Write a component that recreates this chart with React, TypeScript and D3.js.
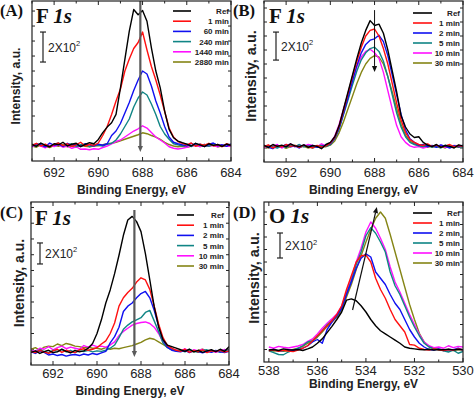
import * as d3 from 'd3';

// ---------- data ----------
const energyF = d3.range(46).map((i) => +(693 - 0.2 * i).toFixed(1));
const energyO = d3.range(41).map((i) => +(538 - 0.2 * i).toFixed(1));

const legendA = ['Ref', '1 min', '60 min', '240 min', '1440 min', '2880 min'];
const legendShort = ['Ref', '1 min', '2 min', '5 min', '10 min', '30 min'];
const ticksF = [692, 690, 688, 686, 684];
const ticksO = [538, 536, 534, 532, 530];
const colors = ['#000000', '#ff1010', '#1010f0', '#108585', '#ff10ff', '#858515'];

// (A) F 1s, long exposure
const aRef = [110, 98, 120, 104, 95, 115, 108, 125, 100, 112, 118, 96, 110, 122, 115,
  144, 189, 226, 255, 311, 488, 677, 866, 1010, 975, 1003, 932, 755, 600, 488, 333, 211, 155, 133, 122,
  112, 100, 118, 108, 96, 115, 104, 110, 98, 112, 105];
const a1 = [105, 118, 100, 112, 95, 110, 120, 102, 115, 98, 108, 125, 100, 110, 104,
  120, 170, 230, 310, 400, 480, 600, 680, 750, 790, 860, 740, 630, 540, 440, 330, 220, 160, 130, 118,
  108, 120, 98, 112, 105, 118, 100, 110, 95, 115, 104];
const a60 = [100, 115, 108, 95, 120, 104, 112, 98, 118, 106, 110, 96, 115, 108, 100, 112, 105,
  115, 170, 200, 250, 320, 390, 470, 540, 600, 580, 500, 400, 320, 230, 160, 125, 115,
  108, 100, 118, 104, 112, 96, 110, 120, 102, 108, 98, 114];
const a240 = [112, 100, 118, 104, 96, 110, 120, 100, 106, 115, 98, 108, 112, 95, 110, 104, 100, 112,
  118, 140, 180, 230, 280, 360, 420, 460, 440, 380, 310, 230, 180, 145, 115,
  108, 100, 112, 96, 118, 104, 110, 98, 115, 106, 100, 112, 108];
const a1440 = [95, 110, 100, 88, 105, 96, 108, 92, 100, 85, 95, 78, 80, 75, 82,
  78, 90, 100, 115, 130, 140, 160, 180, 200, 215, 235, 220, 190, 160, 140, 120, 95, 85, 80,
  84, 92, 100, 105, 96, 110, 100, 104, 95, 108, 100, 98];
const a2880 = [100, 92, 108, 96, 90, 104, 98, 110, 95, 100, 92, 105, 98, 95, 100,
  102, 108, 115, 118, 125, 135, 145, 155, 165, 175, 188, 182, 170, 160, 145, 125, 110, 100, 95,
  98, 92, 100, 105, 96, 102, 98, 106, 94, 100, 98, 102];

// (B) F 1s
const bRef = [118, 105, 125, 112, 120, 108, 130, 115, 110, 122, 105, 118, 112, 95, 125,
  140, 180, 260, 380, 500, 620, 740, 850, 940, 1010, 975, 985, 920, 800, 650, 500, 330, 250, 200, 175, 180, 140,
  120, 110, 125, 105, 118, 112, 100, 122, 115];
const b1 = [110, 122, 100, 115, 108, 125, 112, 118, 105, 120, 110, 100, 118, 108, 115,
  135, 175, 255, 370, 490, 610, 720, 820, 900, 940, 950, 900, 810, 700, 560, 420, 300, 210, 160, 140, 125, 118,
  130, 110, 120, 105, 115, 125, 108, 118, 112];
const b2 = [120, 105, 95, 118, 110, 125, 108, 115, 100, 122, 112, 118, 105, 110, 120,
  130, 170, 245, 350, 460, 580, 690, 780, 840, 870, 880, 905, 860, 760, 620, 480, 340, 230, 165, 140, 120, 125,
  110, 118, 105, 122, 112, 100, 115, 108, 120];
const b5 = [112, 118, 108, 100, 115, 105, 120, 110, 125, 108, 115, 100, 112, 118, 110,
  125, 165, 235, 340, 445, 550, 650, 730, 780, 810, 820, 790, 720, 610, 480, 350, 250, 180, 140, 125, 115, 110,
  118, 105, 112, 100, 120, 108, 115, 110, 105];
const b10 = [105, 118, 112, 125, 100, 115, 130, 108, 120, 112, 125, 118, 108, 130, 115,
  135, 185, 270, 380, 480, 580, 680, 750, 790, 805, 780, 740, 640, 510, 380, 260, 180, 140, 115, 105, 110, 100,
  108, 115, 112, 120, 105, 110, 118, 115, 108];
const b30 = [108, 100, 115, 105, 112, 98, 110, 118, 104, 112, 100, 108, 115, 105, 110,
  120, 150, 210, 290, 380, 470, 560, 640, 700, 740, 760, 750, 700, 610, 500, 380, 270, 190, 150, 130, 118, 110,
  105, 115, 108, 112, 100, 118, 110, 105, 112];

// (C) F 1s
const cRef = [120, 135, 110, 128, 140, 118, 125, 150, 130, 115, 140, 125, 135,
  160, 205, 300, 430, 590, 715, 870, 1045, 1235, 1380, 1415, 1365, 1270, 1060, 810, 555, 365, 240, 190, 175, 160,
  145, 130, 150, 125, 140, 120, 135, 145, 128, 150, 130, 175];
const c1 = [130, 118, 140, 125, 110, 135, 150, 120, 140, 128, 118, 145, 155, 140, 150,
  165, 200, 230, 300, 400, 560, 640, 690, 730, 790, 830, 810, 720, 560, 390, 260, 185, 160, 140,
  130, 150, 120, 138, 125, 145, 118, 135, 128, 140, 122, 132];
const c2 = [125, 110, 135, 120, 95, 105, 90, 100, 85, 95, 100, 90, 105, 95, 110,
  100, 115, 130, 210, 270, 360, 510, 560, 590, 640, 680, 700, 640, 520, 370, 240, 170, 140, 130,
  125, 140, 118, 135, 128, 115, 130, 120, 138, 125, 118, 130];
const c5 = [135, 120, 145, 128, 115, 140, 130, 150, 125, 140, 118, 135, 128, 140, 125,
  135, 130, 140, 160, 190, 260, 340, 380, 410, 430, 450, 500, 520, 420, 320, 210, 165, 145,
  135, 140, 125, 150, 130, 120, 138, 145, 125, 135, 120, 140, 128];
const c10 = [140, 130, 160, 150, 175, 145, 165, 180, 155, 170, 160, 150, 185, 170, 190,
  175, 180, 170, 190, 220, 280, 320, 350, 380, 395, 405, 410, 395, 360, 300, 220, 170, 150,
  140, 130, 155, 125, 145, 135, 150, 128, 140, 120, 135, 148, 130];
const c30 = [150, 165, 140, 170, 180, 175, 200, 185, 205, 195, 180, 175, 165, 170, 160,
  160, 150, 165, 150, 160, 155, 165, 175, 185, 200, 215, 240, 255, 245, 220, 195, 170, 150,
  140, 130, 145, 135, 125, 140, 150, 132, 138, 125, 145, 130, 135];

// (D) O 1s
const dRef = [96, 100, 92, 105, 98, 96, 100, 92, 105,
  120, 150, 185, 235, 285, 340, 400, 495, 505, 490, 450,
  400, 340, 290, 250, 225, 200, 175, 150, 120, 110, 105,
  100, 98, 102, 96, 100, 98, 103, 97, 100, 99];
const d1 = [90, 98, 85, 95, 88, 83, 95, 110, 130,
  170, 210, 250, 290, 330, 380, 450, 580, 690, 800, 850, 855,
  800, 670, 580, 510, 420, 340, 290, 240, 140, 135, 110,
  100, 95, 105, 98, 92, 100, 95, 105, 98];
const d2 = [95, 100, 88, 92, 98, 90, 100, 110, 130, 160, 180, 150, 260, 320, 370, 430, 540, 640, 750, 830, 865,
  840, 720, 670, 620, 540, 470, 420, 340, 260, 200, 150, 120, 100, 95, 105, 92, 100, 98, 110, 95];
const d5 = [90, 75, 60, 58, 80, 95, 110, 130, 160,
  170, 205, 250, 297, 330, 370, 430, 545, 650, 780, 880, 1010, 1075,
  1030, 960, 880, 720, 610, 540, 450, 360, 280, 210, 150, 120,
  105, 100, 90, 80, 95, 70, 85];
const d10 = [120, 110, 125, 118, 112, 120, 128, 140, 165,
  185, 225, 270, 310, 345, 385, 445, 560, 670, 800, 910, 1040, 1120,
  1070, 990, 900, 760, 640, 560, 470, 380, 300, 220, 160, 130,
  115, 120, 110, 130, 115, 125, 120];
const d30 = [95, 88, 92, 85, 90, 100, 110, 125, 150,
  165, 200, 240, 285, 320, 360, 420, 520, 620, 740, 850, 960, 1060, 1150, 1200,
  1150, 1020, 880, 740, 600, 460, 340, 230, 160, 125, 108,
  100, 95, 98, 92, 100, 95];

// ---------- layout ----------
const SANS = 'Liberation Sans, Arial, sans-serif';
const SERIF = 'Liberation Serif, Times New Roman, serif';

type PanelCfg = {
  id: string;
  letter: string;
  element: string;
  frame: { l: number; t: number; r: number; b: number };
  xDomain: [number, number];
  yMax: number;
  energies: number[];
  series: number[][];
  legend: string[];
  xTicks: number[];
  yStep: number;
  leg: { x1: number; x2: number; tx: number; y: number; dy: number };
  letterPos: [number, number];
  titlePos: [number, number];
  bar: { x: number; lo: number };
  yTitle: { x: number; y: number; size: number };
  tickY: number;
  xTitleY: number;
  arrow: { from: [number, number]; to: [number, number]; color: string; width: number };
};

const panels: PanelCfg[] = [
  {
    id: 'a', letter: '(A)', element: 'F',
    frame: { l: 32, t: 1, r: 231, b: 161 }, xDomain: [693, 684], yMax: 1067,
    energies: energyF, series: [aRef, a1, a60, a240, a1440, a2880], legend: legendA,
    xTicks: ticksF, yStep: 100,
    leg: { x1: 173, x2: 191, tx: 229, y: 11, dy: 10.2 },
    letterPos: [0, 16], titlePos: [36, 23], bar: { x: 43, lo: 660 },
    yTitle: { x: 16, y: 86, size: 12.2 }, tickY: 177, xTitleY: 194,
    arrow: { from: [688.1, 1067], to: [688.1, 60], color: '#5a5a5a', width: 2.2 },
  },
  {
    id: 'b', letter: '(B)', element: 'F',
    frame: { l: 264, t: 1, r: 463, b: 162 }, xDomain: [693, 684], yMax: 1150,
    energies: energyF, series: [bRef, b1, b2, b5, b10, b30], legend: legendShort,
    xTicks: ticksF, yStep: 100,
    leg: { x1: 413, x2: 432, tx: 460, y: 13, dy: 10 },
    letterPos: [233, 16], titlePos: [269, 23], bar: { x: 276, lo: 728 },
    yTitle: { x: 251, y: 76, size: 14.5 }, tickY: 177, xTitleY: 194,
    arrow: { from: [688.0, 1085], to: [688.0, 643], color: '#111', width: 1 },
  },
  {
    id: 'c', letter: '(C)', element: 'F',
    frame: { l: 31, t: 202, r: 229, b: 365 }, xDomain: [693, 684], yMax: 1552,
    energies: energyF, series: [cRef, c1, c2, c5, c10, c30], legend: legendShort,
    xTicks: ticksF, yStep: 150,
    leg: { x1: 177, x2: 194, tx: 224, y: 215, dy: 10.2 },
    letterPos: [0, 218], titlePos: [35, 225], bar: { x: 40, lo: 962 },
    yTitle: { x: 19, y: 283, size: 14 }, tickY: 378, xTitleY: 395,
    arrow: { from: [688.3, 1476], to: [688.3, 76], color: '#5a5a5a', width: 2.2 },
  },
  {
    id: 'd', letter: '(D)', element: 'O',
    frame: { l: 264, t: 202, r: 463, b: 362 }, xDomain: [538.2, 530], yMax: 1280,
    energies: energyO, series: [dRef, d1, d2, d5, d10, d30], legend: legendShort,
    xTicks: ticksO, yStep: 100,
    leg: { x1: 413, x2: 432, tx: 460, y: 213, dy: 10 },
    letterPos: [233, 218], titlePos: [269, 223], bar: { x: 280, lo: 832 },
    yTitle: { x: 254, y: 278, size: 14.5 }, tickY: 375, xTitleY: 388,
    arrow: { from: [534.55, 416], to: [533.55, 1240], color: '#111', width: 1.2 },
  },
];

function Panel({ p }: { p: PanelCfg }) {
  const { l, t, r, b } = p.frame;
  const x = d3.scaleLinear().domain(p.xDomain).range([l, r]);
  const y = d3.scaleLinear().domain([0, p.yMax]).range([b, t]);
  const line = d3
    .line<number>()
    .x((_, i) => x(p.energies[i]))
    .y((v) => y(v));

  const [xlo, xhi] = d3.extent(p.xDomain) as [number, number];
  const minor = d3.range(Math.ceil(xlo), Math.floor(xhi) + 1).filter((v) => !p.xTicks.includes(v));
  const yTicks = d3.range(p.yStep, p.yMax, p.yStep);

  // arrow
  const ax1 = x(p.arrow.from[0]);
  const ay1 = y(p.arrow.from[1]);
  const ax2 = x(p.arrow.to[0]);
  const ay2 = y(p.arrow.to[1]);
  const ang = Math.atan2(ay2 - ay1, ax2 - ax1);
  const hl = 6;
  const hw = 2.6;
  const bx = ax2 - hl * Math.cos(ang);
  const by = ay2 - hl * Math.sin(ang);
  const head = [
    [ax2, ay2],
    [bx + hw * Math.sin(ang), by - hw * Math.cos(ang)],
    [bx - hw * Math.sin(ang), by + hw * Math.cos(ang)],
  ]
    .map((q) => q.join(','))
    .join(' ');

  const barTop = y(p.bar.lo + 200);
  const barBot = y(p.bar.lo);
  const barMid = (barTop + barBot) / 2;

  return (
    <g>
      <defs>
        <clipPath id={`clip-${p.id}`}>
          <rect x={l} y={t} width={r - l} height={b - t} />
        </clipPath>
      </defs>

      {/* ticks */}
      {p.xTicks.map((v) => (
        <g key={`xt${v}`} stroke="#222" strokeWidth={1}>
          <line x1={x(v)} x2={x(v)} y1={b} y2={b - 4} />
          <line x1={x(v)} x2={x(v)} y1={t} y2={t + 4} />
        </g>
      ))}
      {minor.map((v) => (
        <g key={`xm${v}`} stroke="#222" strokeWidth={1}>
          <line x1={x(v)} x2={x(v)} y1={b} y2={b - 2.5} />
          <line x1={x(v)} x2={x(v)} y1={t} y2={t + 2.5} />
        </g>
      ))}
      {yTicks.map((v) => (
        <g key={`yt${v}`} stroke="#222" strokeWidth={1}>
          <line x1={l} x2={l + 3} y1={y(v)} y2={y(v)} />
          <line x1={r} x2={r - 3} y1={y(v)} y2={y(v)} />
        </g>
      ))}

      {/* spectra */}
      <g clipPath={`url(#clip-${p.id})`} fill="none" strokeWidth={1.4} strokeLinejoin="round">
        {p.series
          .map((s, i) => ({ s, i }))
          .reverse()
          .map(({ s, i }) => (
            <path key={i} d={line(s) ?? ''} stroke={colors[i]} />
          ))}
      </g>

      {/* arrow */}
      <line x1={ax1} y1={ay1} x2={bx} y2={by} stroke={p.arrow.color} strokeWidth={p.arrow.width} />
      <polygon points={head} fill={p.arrow.color} />

      <rect x={l} y={t} width={r - l} height={b - t} fill="none" stroke="#222" strokeWidth={1.2} />

      {/* tick labels */}
      {p.xTicks.map((v) => (
        <text key={`xl${v}`} x={x(v)} y={p.tickY} textAnchor="middle" fontFamily={SANS} fontSize={13} fill="#222">
          {v}
        </text>
      ))}
      <text x={(l + r) / 2} y={p.xTitleY} textAnchor="middle" fontFamily={SANS} fontWeight="bold" fontSize={12} fill="#222">
        Binding Energy, eV
      </text>
      <text
        transform={`translate(${p.yTitle.x},${p.yTitle.y}) rotate(-90)`}
        textAnchor="middle"
        dominantBaseline="central"
        fontFamily={SANS}
        fontWeight="bold"
        fontSize={p.yTitle.size}
        fill="#222"
      >
        Intensity, a.u.
      </text>

      {/* panel letter and core level */}
      <text x={p.letterPos[0]} y={p.letterPos[1]} fontFamily={SERIF} fontWeight="bold" fontSize={16.5} fill="#111">
        {p.letter}
      </text>
      <text x={p.titlePos[0]} y={p.titlePos[1]} fontFamily={SERIF} fontWeight="bold" fontSize={21} fill="#111">
        {p.element}{' '}
        <tspan fontStyle="italic">1s</tspan>
      </text>

      {/* scale bar */}
      <g stroke="#222" strokeWidth={1.2}>
        <line x1={p.bar.x} x2={p.bar.x} y1={barTop} y2={barBot} />
        <line x1={p.bar.x - 3} x2={p.bar.x + 3} y1={barTop} y2={barTop} />
        <line x1={p.bar.x - 3} x2={p.bar.x + 3} y1={barBot} y2={barBot} />
      </g>
      <text x={p.bar.x + 5} y={barMid + 4.5} fontFamily={SANS} fontSize={12} fill="#222">
        2X10
        <tspan dy={-5.5} fontSize={7.5}>2</tspan>
      </text>

      {/* legend */}
      {p.legend.map((name, i) => {
        const ly = p.leg.y + i * p.leg.dy;
        return (
          <g key={name}>
            <line x1={p.leg.x1} x2={p.leg.x2} y1={ly} y2={ly} stroke={colors[i]} strokeWidth={1.6} />
            <text x={p.leg.tx} y={ly + 3} textAnchor="end" fontFamily={SANS} fontWeight="bold" fontSize={8} fill="#222">
              {name}
            </text>
          </g>
        );
      })}
    </g>
  );
}

export default function App() {
  return (
    <svg
      width={474}
      height={399}
      viewBox="0 0 474 399"
      style={{ position: 'absolute', left: 0, top: 0, background: '#fff' }}
    >
      <rect width={474} height={399} fill="#fff" />
      {panels.map((p) => (
        <Panel key={p.id} p={p} />
      ))}
    </svg>
  );
}
